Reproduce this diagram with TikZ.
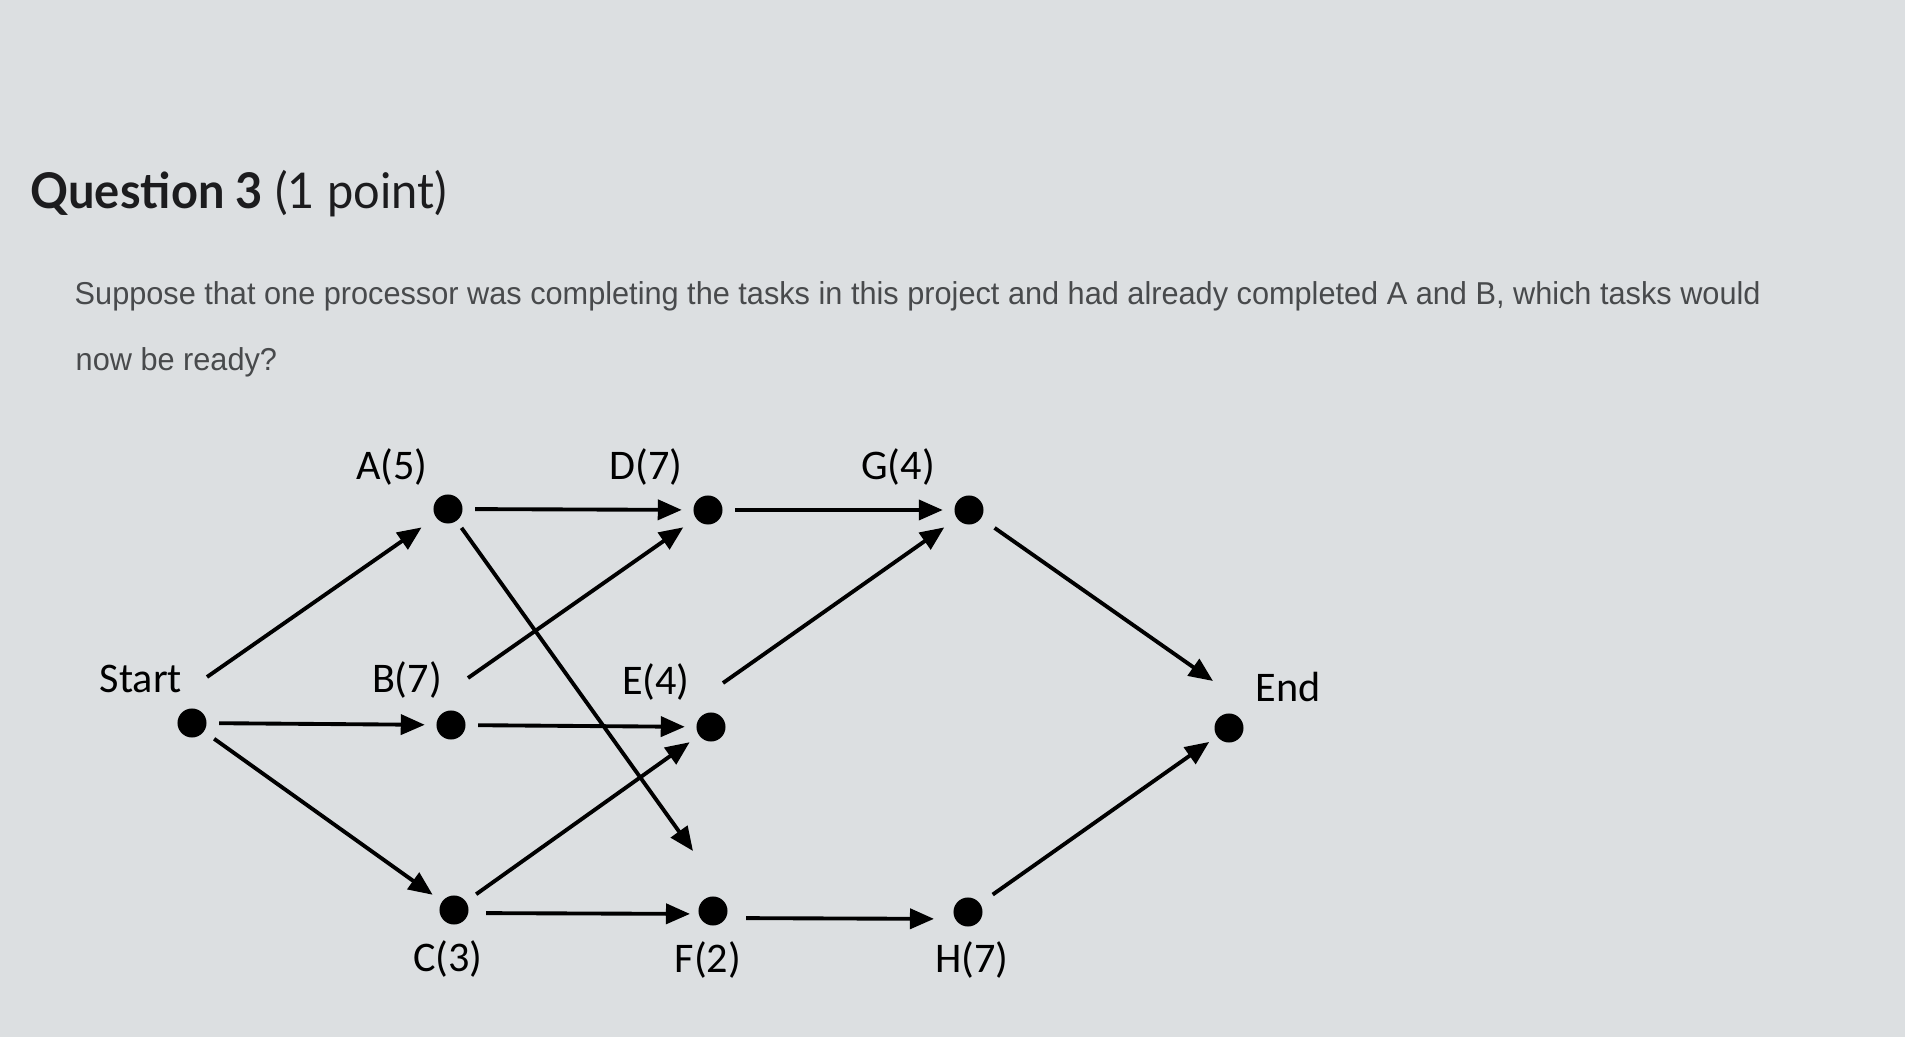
\documentclass[tikz,border=0pt]{standalone}
\usepackage{fontspec}
\setmainfont[FakeStretch=0.97]{Liberation Sans}
\newfontfamily\titlefont[FakeStretch=0.955]{Lato}
\newfontfamily\labelfont{Carlito}
\usetikzlibrary{arrows.meta}
\definecolor{screen}{RGB}{220,223,225}
\definecolor{bodytext}{RGB}{72,74,76}
\definecolor{titletext}{RGB}{28,28,30}

\begin{document}
\begin{tikzpicture}[x=0.01cm, y=-0.01cm,
    dot/.style={circle, fill=black, inner sep=0pt, minimum size=0.29cm},
    lbl/.style={font=\labelfont\fontsize{12}{14}\selectfont, anchor=base, inner sep=0pt},
    qtext/.style={anchor=base west, inner sep=0pt, text=bodytext, font=\fontsize{9}{11}\selectfont},
    arr/.style={line width=1.1pt, -{Triangle[length=0.24cm, width=0.2cm]}, shorten <=0.12cm, shorten >=0.11cm}]
  % screen background
  \fill[screen] (0,0) rectangle (1905,1037);
  \useasboundingbox (0,0) rectangle (1905,1037);

  % question
  \node[anchor=base west, inner sep=0pt, text=titletext, font=\titlefont\fontsize{14}{17}\selectfont] (title) at (30,209) {\textbf{Question 3} (1 point)};
  \node[qtext] (q1) at (74,305) {Suppose that one processor was completing the tasks in this project and had already completed A and B, which tasks would};
  \node[qtext] (q2) at (75,371) {now be ready?};

  % task dots
  \node[dot] (start) at (192,723) {};
  \node[dot] (a) at (448,509) {};
  \node[dot] (b) at (451,725) {};
  \node[dot] (c) at (454,910) {};
  \node[dot] (d) at (708,510) {};
  \node[dot] (e) at (711,727) {};
  \node[dot] (f) at (713,911) {};
  \node[dot] (g) at (969,510) {};
  \node[dot] (h) at (968,912) {};
  \node[dot] (finish) at (1229,728) {};

  % task labels
  \node[lbl] (lstart) at (141,693) {Start};
  \node[lbl] (la) at (392,480) {A(5)};
  \node[lbl] (lb) at (407,693) {B(7)};
  \node[lbl] (lc) at (448,972) {C(3)};
  \node[lbl] (ld) at (646,480) {D(7)};
  \node[lbl] (le) at (656,695) {E(4)};
  \node[lbl] (lf) at (708,973) {F(2)};
  \node[lbl] (lg) at (898,480) {G(4)};
  \node[lbl] (lh) at (972,973) {H(7)};
  \node[lbl] (lfinish) at (1288,702) {End};

  % loose arrow ends
  \coordinate (sa) at (207,677);
  \coordinate (bd) at (468,678);
  \coordinate (eg) at (723,683);
  \coordinate (af) at (693,851);
  \coordinate (endin) at (1213,681);

  % precedence arrows
  \draw[arr] (start) -- (b);
  \draw[arr] (start) -- (c);
  \draw[arr, shorten <=0pt, shorten >=0.17cm] (sa) -- (a);
  \draw[arr] (a) -- (d);
  \draw[arr, shorten <=0.08cm, shorten >=0pt] (a) -- (af);
  \draw[arr, shorten <=0pt, shorten >=0.15cm] (bd) -- (d);
  \draw[arr] (b) -- (e);
  \draw[arr] (c) -- (e);
  \draw[arr, shorten <=0.32cm, shorten >=0.23cm] ([yshift=-0.03cm]c.center) -- ([yshift=-0.03cm]f.center);
  \draw[arr] (d) -- (g);
  \draw[arr, shorten <=0pt, shorten >=0.15cm] (eg) -- (g);
  \draw[arr, shorten <=0.33cm, shorten >=0.34cm] ([yshift=-0.07cm]f.center) -- ([yshift=-0.07cm]h.center);
  \draw[arr, shorten <=0.16cm, shorten >=0pt] (g) -- (endin);
  \draw[arr, shorten <=0.15cm, shorten >=0.09cm] (h) -- (finish);
\end{tikzpicture}
\end{document}
